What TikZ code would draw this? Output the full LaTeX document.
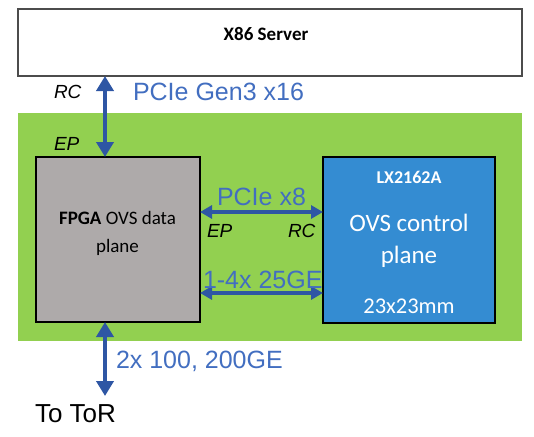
\documentclass[tikz,border=0pt]{standalone}
\usepackage{fontspec}
\setmainfont{Liberation Sans}
\newfontfamily\calibri{Carlito}
\usepackage{tikz}
\usepackage{xcolor}
\usetikzlibrary{positioning,arrows.meta}
\definecolor{boardgreen}{RGB}{146,208,80}
\definecolor{fpgagray}{RGB}{174,170,170}
\definecolor{lxblue}{RGB}{52,140,210}
\definecolor{busblue}{RGB}{46,86,164}
\definecolor{lblblue}{RGB}{66,110,192}

\begin{document}
\begin{tikzpicture}[x=1pt,y=-1pt]
\tikzstyle{every node}+=[inner sep=0pt,outer sep=0pt]
\tikzstyle{box}=[draw=black,line width=1.4pt]
\tikzstyle{bigbus}=[draw=busblue,line width=4.5pt,{Triangle[length=15pt,width=17pt]}-{Triangle[length=15pt,width=17pt]}]
\tikzstyle{smallbus}=[draw=busblue,line width=4pt,{Triangle[length=12pt,width=13pt]}-{Triangle[length=12pt,width=13pt]}]
\tikzstyle{lbl}=[anchor=base west,text=lblblue,font=\fontsize{25}{30}\selectfont]
\tikzstyle{side}=[anchor=base west,font=\fontsize{19}{22}\selectfont\itshape]
\tikzstyle{cal}=[anchor=base,font=\calibri\fontsize{19}{22}\selectfont]
\tikzstyle{lxtxt}=[anchor=base,text=white,font=\calibri\fontsize{25}{30}\selectfont]
\useasboundingbox (0,0) rectangle (534,436);
\node [draw=black!70,line width=1.4pt,fill=white,minimum width=504pt,minimum height=67pt] (server) at (270,42.5) {};
\node [cal] (servertxt) at (266,41) {\textbf{X86 Server}};
\node [fill=boardgreen,minimum width=504pt,minimum height=228pt] (board) at (270,227) {};
\node [box,fill=fpgagray,minimum width=164pt,minimum height=165pt] (fpga) at (118,239.5) {};
\node [box,fill=lxblue,minimum width=172pt,minimum height=166pt] (lx) at (409,240) {};
\node [cal] (fpgatxt) at (117.5,224) {\textbf{FPGA} OVS data};
\node [cal] (fpgatxt2) at (117.5,252) {plane};
\node [lxtxt,font=\calibri\bfseries\fontsize{18}{22}\selectfont] (lxname) at (409,183) {LX2162A};
\node [lxtxt] (lxtxt1) at (409,231) {OVS control};
\node [lxtxt] (lxtxt2) at (409,263) {plane};
\node [lxtxt,font=\calibri\fontsize{22.5}{27}\selectfont] (lxsize) at (409,313) {23x23mm};
\coordinate (gen3) at (105,0);
\coordinate (tor) at (105,396);
\coordinate (x8) at (0,212);
\coordinate (ge) at (0,293);
\draw [bigbus] (server.south -| gen3) -- (fpga.north -| gen3);
\draw [bigbus] (fpga.south -| tor) -- (tor);
\draw [smallbus] (fpga.east |- x8) -- (lx.west |- x8);
\draw [smallbus] (fpga.east |- ge) -- (lx.west |- ge);
\node [lbl] (gen3lbl) at (133,100) {PCIe Gen3 x16};
\node [lbl] (x8lbl) at (217,205) {PCIe x8};
\node [lbl] (gelbl) at (203,288) {1-4x 25GE};
\node [lbl] (torlbl) at (116,368) {2x 100, 200GE};
\node [side] (rctop) at (54,98) {RC};
\node [side] (eptop) at (54,150) {EP};
\node [side] (epx8) at (207,237) {EP};
\node [side] (rcx8) at (288,237) {RC};
\node [anchor=base west,font=\fontsize{26}{30}\selectfont] (torname) at (35,422) {To ToR};
\end{tikzpicture}
\end{document}
